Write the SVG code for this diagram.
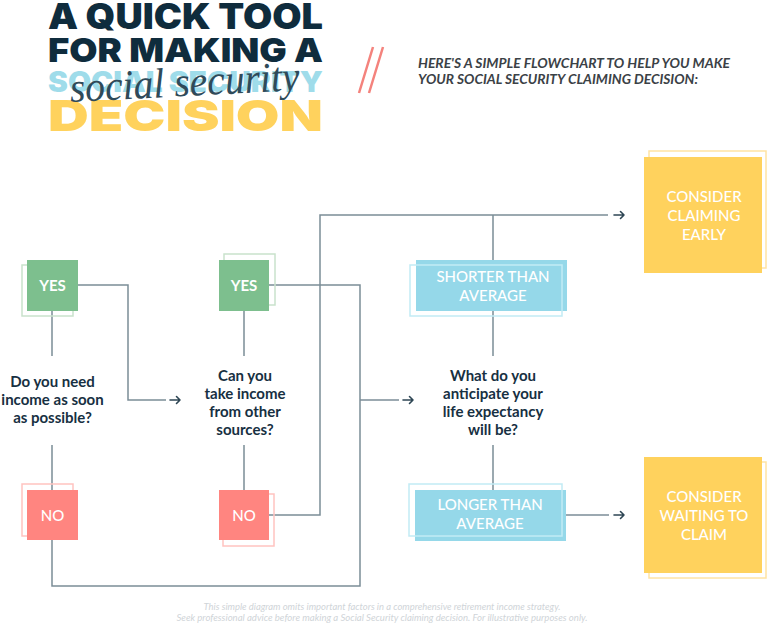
<svg xmlns="http://www.w3.org/2000/svg" width="767" height="642" viewBox="0 0 767 642">
<defs>
<style>
.title{font-family:Inter,"Open Sans","Liberation Sans",sans-serif;font-weight:900;}
.sub{font-family:Lato,"Liberation Sans",sans-serif;font-weight:700;font-style:italic;font-size:13px;fill:#3b4146;}
.q{font-family:Lato,"Liberation Sans",sans-serif;font-weight:700;font-size:15px;fill:#173042;text-anchor:middle;}
.nt{font-family:Lato,"Liberation Sans",sans-serif;font-weight:700;font-size:15px;fill:#ffffff;text-anchor:middle;}
.bt{font-family:Lato,"Liberation Sans",sans-serif;font-weight:500;font-size:15px;fill:#ffffff;text-anchor:middle;}
.foot{font-family:Lato,"Liberation Sans",sans-serif;font-style:italic;font-size:8.6px;fill:#cfd4d8;text-anchor:middle;}
.ln{fill:none;stroke:#7b8d97;stroke-width:1.5;}
.ar{fill:none;stroke:#2e4654;stroke-width:1.6;stroke-linecap:round;stroke-linejoin:round;}
.g{fill:#7dbf8e;} .go{fill:none;stroke:#c9e2cc;stroke-width:1.5;}
.r{fill:#ff8580;} .ro{fill:none;stroke:#ffc3c0;stroke-width:1.5;}
.b{fill:#95d8e9;} .bo{fill:none;stroke:#c2ebf5;stroke-width:1.5;}
.y{fill:#ffd25d;} .yo{fill:none;stroke:#ffe3a3;stroke-width:1.5;}
</style>
</defs>
<rect width="767" height="642" fill="#ffffff"/>

<g id="title">
<text class="title" x="48" y="29" font-size="35" fill="#0f2c3d" textLength="275" lengthAdjust="spacingAndGlyphs">A QUICK TOOL</text>
<text class="title" x="48" y="62" font-size="33" fill="#0f2c3d" textLength="275" lengthAdjust="spacingAndGlyphs">FOR MAKING A</text>
<text class="title" x="48" y="92" font-size="28" fill="#9fdcea" textLength="275" lengthAdjust="spacingAndGlyphs">SOCIAL SECURITY</text>
<text class="title" x="48" y="131" font-size="43" fill="#ffd25d" textLength="275" lengthAdjust="spacingAndGlyphs">DECISION</text>
<text x="70" y="96" font-family="'Liberation Serif',serif" font-style="italic" font-size="42" fill="#2f4a59" textLength="230" lengthAdjust="spacingAndGlyphs" transform="rotate(-3 186 90)">social security</text>
</g>

<g id="subtitle">
<path d="M373 47 L359 93 M383 47 L369 93" stroke="#f4837d" stroke-width="2.5" fill="none"/>
<text class="sub" x="418" y="68" textLength="312" lengthAdjust="spacingAndGlyphs">HERE'S A SIMPLE FLOWCHART TO HELP YOU MAKE</text>
<text class="sub" x="418" y="84" textLength="280" lengthAdjust="spacingAndGlyphs">YOUR SOCIAL SECURITY CLAIMING DECISION:</text>
</g>

<g id="connectors">
<path class="ln" d="M78 285 H128 V400 H166"/>
<path class="ln" d="M52 311 V356 M52 445 V490"/>
<path class="ln" d="M244 311 V356 M244 445 V490"/>
<path class="ln" d="M269 285 H360 V586 H52 V540"/>
<path class="ln" d="M360 400 H399"/>
<path class="ln" d="M269 515 H320 V215 H608"/>
<path class="ln" d="M493 215 V260 M493 311 V356 M493 445 V490"/>
<path class="ln" d="M566 515 H609"/>
<path class="ar" d="M170 400 H180 M176.5 396.5 L180 400 L176.5 403.5"/>
<path class="ar" d="M403 400 H413 M409.5 396.5 L413 400 L409.5 403.5"/>
<path class="ar" d="M614 215 H624 M620.5 211.5 L624 215 L620.5 218.5"/>
<path class="ar" d="M614 515 H624 M620.5 511.5 L624 515 L620.5 518.5"/>
</g>

<g id="yes1">
<rect class="go" x="22" y="265" width="51" height="51"/>
<rect class="g" x="27" y="260" width="51" height="51"/>
<text class="nt" x="52.5" y="291">YES</text>
</g>
<g id="q1">
<text class="q" x="52.5" y="387">Do you need</text>
<text class="q" x="52.5" y="405">income as soon</text>
<text class="q" x="52.5" y="423">as possible?</text>
</g>
<g id="no1">
<rect class="ro" x="22" y="484" width="51" height="52"/>
<rect class="r" x="27" y="490" width="51" height="50"/>
<text class="bt" x="52.5" y="521">NO</text>
</g>

<g id="yes2">
<rect class="go" x="224" y="254" width="51" height="51"/>
<rect class="g" x="219" y="260" width="50" height="51"/>
<text class="nt" x="244" y="291">YES</text>
</g>
<g id="q2">
<text class="q" x="245" y="381">Can you</text>
<text class="q" x="245" y="399">take income</text>
<text class="q" x="245" y="417">from other</text>
<text class="q" x="245" y="435">sources?</text>
</g>
<g id="no2">
<rect class="ro" x="223" y="494" width="51" height="52"/>
<rect class="r" x="219" y="490" width="50" height="50"/>
<text class="bt" x="244" y="521">NO</text>
</g>

<g id="shorter">
<rect class="b" x="416" y="260" width="151" height="51"/>
<rect class="bo" x="410" y="265" width="152" height="51"/>
<text class="bt" x="493" y="282">SHORTER THAN</text>
<text class="bt" x="493" y="301">AVERAGE</text>
</g>
<g id="q3">
<text class="q" x="493" y="381">What do you</text>
<text class="q" x="493" y="399">anticipate your</text>
<text class="q" x="493" y="417">life expectancy</text>
<text class="q" x="493" y="435">will be?</text>
</g>
<g id="longer">
<rect class="b" x="415" y="490" width="151" height="51"/>
<rect class="bo" x="409" y="484" width="153" height="52"/>
<text class="bt" x="490" y="510">LONGER THAN</text>
<text class="bt" x="490" y="529">AVERAGE</text>
</g>

<g id="early">
<rect class="yo" x="649" y="151" width="117" height="117"/>
<rect class="y" x="644" y="157" width="118" height="116"/>
<text class="bt" x="704" y="202">CONSIDER</text>
<text class="bt" x="704" y="221">CLAIMING</text>
<text class="bt" x="704" y="240">EARLY</text>
</g>
<g id="waiting">
<rect class="yo" x="649" y="462" width="117" height="116"/>
<rect class="y" x="644" y="457" width="118" height="116"/>
<text class="bt" x="704" y="502">CONSIDER</text>
<text class="bt" x="704" y="521">WAITING TO</text>
<text class="bt" x="704" y="540">CLAIM</text>
</g>

<g id="footer">
<text class="foot" x="382" y="610" textLength="357" lengthAdjust="spacingAndGlyphs">This simple diagram omits important factors in a comprehensive retirement income strategy.</text>
<text class="foot" x="382" y="621" textLength="411" lengthAdjust="spacingAndGlyphs">Seek professional advice before making a Social Security claiming decision. For illustrative purposes only.</text>
</g>
</svg>
